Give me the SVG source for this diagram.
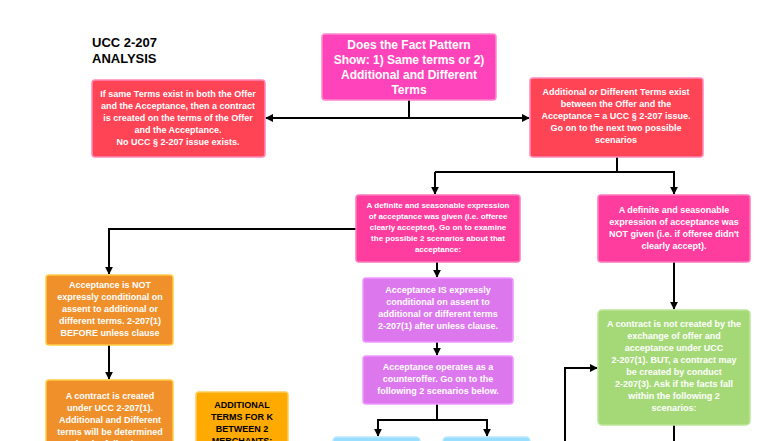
<svg xmlns="http://www.w3.org/2000/svg" width="784" height="441" viewBox="0 0 784 441">
<defs>
<marker id="ah" viewBox="0 0 10 10" refX="9" refY="5" markerWidth="8" markerHeight="8" orient="auto" markerUnits="userSpaceOnUse"><path d="M0,0 L10,5 L0,10 z" fill="#000"/></marker>
<style>
.b{stroke-width:1.5}
.w{font-family:"Liberation Sans",Arial,sans-serif;fill:#fff;font-weight:bold;text-anchor:middle}
.s{font-size:9px}
.c{fill:none;stroke:#000;stroke-width:2;marker-end:url(#ah)}
.l{fill:none;stroke:#000;stroke-width:2}
</style>
</defs>
<rect width="784" height="441" fill="#fff"/>
<text x="92" y="47" font-family="Liberation Sans,Arial,sans-serif" font-weight="bold" font-size="13" fill="#000">UCC 2-207</text>
<text x="92" y="63" font-family="Liberation Sans,Arial,sans-serif" font-weight="bold" font-size="13" fill="#000">ANALYSIS</text>
<g id="connectors">
<path class="l" d="M409,100 V118"/>
<path class="c" d="M409,118 H266"/>
<path class="c" d="M409,118 H529"/>
<path class="l" d="M617,157 V172 H435"/>
<path class="c" d="M435,172 V194"/>
<path class="c" d="M617,172 H674 V194"/>
<path class="c" d="M356,229 H109 V274"/>
<path class="c" d="M109,345 V379"/>
<path class="c" d="M437,262 V277"/>
<path class="c" d="M437,342 V355"/>
<path class="l" d="M437,404 V420"/>
<path class="c" d="M437,420 H378 V436"/>
<path class="c" d="M437,420 H487 V436"/>
<path class="c" d="M674,262 V309"/>
<path class="l" d="M674,425 V441"/>
<path class="c" d="M565,441 V368 H597"/>
</g>
<g id="q"><rect x="322" y="34" width="174" height="66" rx="3" fill="#ff44bb" stroke="#ff88cc" class="b"/>
<text class="w" font-size="12"><tspan x="409" y="49">Does the Fact Pattern</tspan><tspan x="409" y="64">Show: 1) Same terms or 2)</tspan><tspan x="409" y="79">Additional and Different</tspan><tspan x="409" y="94">Terms</tspan></text></g>
<g id="same"><rect x="92" y="80" width="173" height="77" rx="3" fill="#ff4455" stroke="#ff88bb" class="b"/>
<text class="w s" font-weight="normal"><tspan x="178" y="97">If same Terms exist in both the Offer</tspan><tspan x="178" y="109">and the Acceptance, then a contract</tspan><tspan x="178" y="121">is created on the terms of the Offer</tspan><tspan x="178" y="133">and the Acceptance.</tspan><tspan x="178" y="145" font-weight="bold">No UCC § 2-207 issue exists.</tspan></text></g>
<g id="diff"><rect x="530" y="78" width="173" height="79" rx="3" fill="#ff4455" stroke="#ff88bb" class="b"/>
<text class="w s" font-weight="normal"><tspan x="616" y="95">Additional or Different Terms exist</tspan><tspan x="616" y="107">between the Offer and the</tspan><tspan x="616" y="119">Acceptance = <tspan font-weight="bold">a UCC § 2-207 issue.</tspan></tspan><tspan x="616" y="131">Go on to the next two possible</tspan><tspan x="616" y="143">scenarios</tspan></text></g>
<g id="given"><rect x="356" y="195" width="164" height="67" rx="3" fill="#ff3d9e" stroke="#ff77bb" class="b"/>
<text class="w" font-size="8"><tspan x="438" y="208">A definite and seasonable expression</tspan><tspan x="438" y="219">of acceptance was given (i.e.  offeree</tspan><tspan x="438" y="230">clearly accepted). Go on to examine</tspan><tspan x="438" y="241">the possible 2 scenarios about that</tspan><tspan x="438" y="252">acceptance:</tspan></text></g>
<g id="notgiven"><rect x="598" y="195" width="152" height="67" rx="3" fill="#ff3d9e" stroke="#ff77bb" class="b"/>
<text class="w s"><tspan x="674" y="213">A definite and seasonable</tspan><tspan x="674" y="225">expression of acceptance was</tspan><tspan x="674" y="237">NOT given (i.e. if offeree didn't</tspan><tspan x="674" y="249">clearly accept).</tspan></text></g>
<g id="notcond"><rect x="46" y="275" width="127" height="70" rx="3" fill="#f0902a" stroke="#ffcc44" class="b"/>
<text class="w s"><tspan x="110" y="288">Acceptance is NOT</tspan><tspan x="110" y="300">expressly conditional on</tspan><tspan x="110" y="312">assent to additional or</tspan><tspan x="110" y="324">different terms. 2-207(1)</tspan><tspan x="110" y="336">BEFORE unless clause</tspan></text></g>
<g id="created"><rect x="46" y="380" width="127" height="70" rx="3" fill="#f0902a" stroke="#ffcc44" class="b"/>
<text class="w s"><tspan x="110" y="399">A contract is created</tspan><tspan x="110" y="411">under UCC 2-207(1).</tspan><tspan x="110" y="423">Additional and Different</tspan><tspan x="110" y="435">terms will be determined</tspan><tspan x="110" y="447">by the following</tspan></text></g>
<g id="merchants"><rect x="196" y="392" width="92" height="60" rx="3" fill="#ffaa00" stroke="#ffcc55" class="b"/>
<text font-family="Liberation Sans,Arial,sans-serif" font-weight="bold" font-size="9" fill="#000" text-anchor="middle"><tspan x="242" y="408">ADDITIONAL</tspan><tspan x="242" y="420">TERMS FOR K</tspan><tspan x="242" y="432">BETWEEN 2</tspan><tspan x="242" y="444">MERCHANTS:</tspan></text></g>
<g id="iscond"><rect x="363" y="278" width="150" height="64" rx="3" fill="#dd77ee" stroke="#ee99ff" class="b"/>
<text class="w s"><tspan x="438" y="293">Acceptance IS expressly</tspan><tspan x="438" y="305">conditional on assent to</tspan><tspan x="438" y="317">additional or different terms</tspan><tspan x="438" y="329">2-207(1) after unless clause.</tspan></text></g>
<g id="counter"><rect x="363" y="356" width="150" height="48" rx="3" fill="#dd77ee" stroke="#ee99ff" class="b"/>
<text class="w s"><tspan x="438" y="370">Acceptance operates as a</tspan><tspan x="438" y="382">counteroffer. Go on to the</tspan><tspan x="438" y="394">following 2 scenarios below.</tspan></text></g>
<g id="blue1"><rect x="333" y="437" width="87" height="20" rx="4" fill="#99ddff" stroke="#bbe8ff" class="b"/></g>
<g id="blue2"><rect x="443" y="437" width="87" height="20" rx="4" fill="#99ddff" stroke="#bbe8ff" class="b"/></g>
<g id="conduct"><rect x="598" y="310" width="152" height="115" rx="4" fill="#a5d977" stroke="#bde69a" class="b"/>
<text class="w s" font-weight="normal"><tspan x="674" y="327">A contract is not created by the</tspan><tspan x="674" y="339">exchange of offer and</tspan><tspan x="674" y="351">acceptance under UCC</tspan><tspan x="674" y="363">2-207(1). BUT, a contract may</tspan><tspan x="674" y="375">be created by conduct</tspan><tspan x="674" y="387">2-207(3). Ask if the facts fall</tspan><tspan x="674" y="399">within the following 2</tspan><tspan x="674" y="411">scenarios:</tspan></text></g>
</svg>
